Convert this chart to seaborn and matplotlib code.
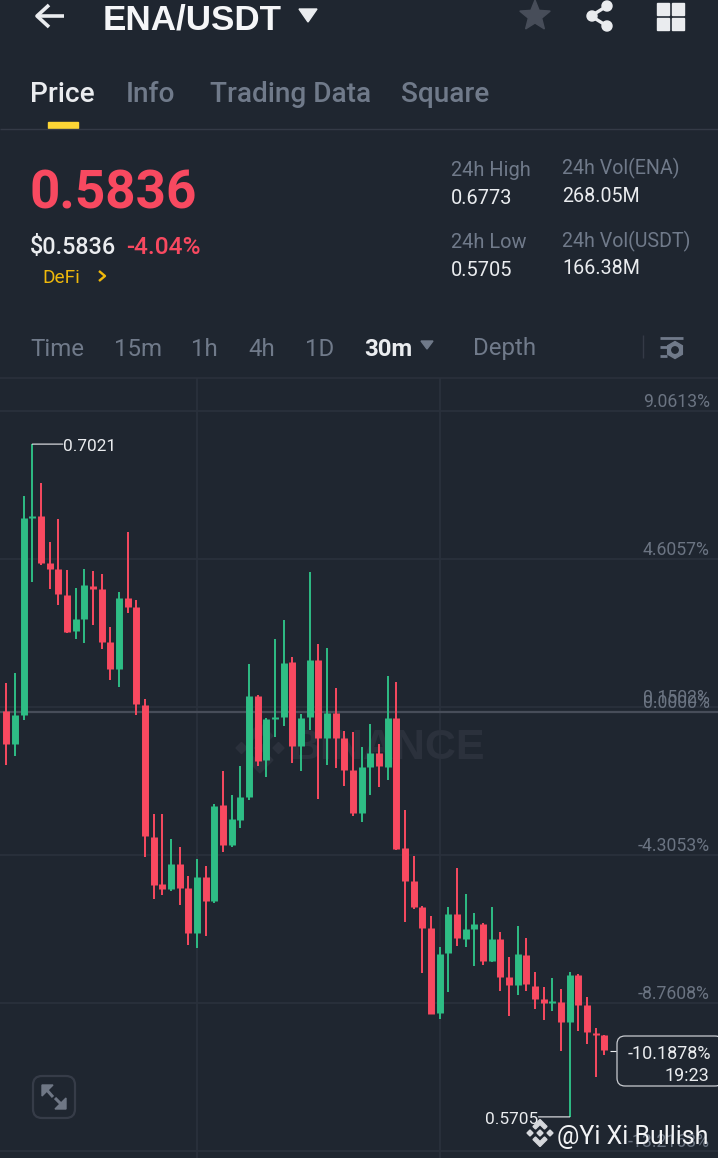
import numpy as np
import pandas as pd
import matplotlib
matplotlib.use("Agg")
import matplotlib.pyplot as plt
from matplotlib.patches import FancyBboxPatch, Polygon, Circle, Rectangle
import seaborn as sns

# candles, oldest first
opens = [.6502, .6498, .6434, .6491, .6877, .6880, .6788, .6777, .6726, .6655,
         .6679, .6744, .6738, .6633, .6581, .6719, .6703, .6511, .6253, .6160,
         .6151, .6199, .6153, .6065, .6174, .6127, .6315, .6236, .6286, .6331,
         .6528, .6403, .6484, .6487, .6594, .6431, .6487, .6598, .6446, .6495,
         .6447, .6383, .6300, .6389, .6417, .6390, .6485, .6230, .6166, .6116,
         .6074, .5908, .6026, .6101, .6053, .6073, .6082, .6010, .6052, .5979,
         .5963, .6022, .5961, .5935, .5928, .5929, .5891, .5983, .5924, .5870,
         .5865]
closes = [.6497, .6434, .6491, .6876, .6880, .6788, .6777, .6727, .6654, .6678,
          .6745, .6738, .6633, .6581, .6719, .6702, .6513, .6254, .6159, .6150,
          .6200, .6153, .6065, .6174, .6127, .6314, .6237, .6287, .6331, .6528,
          .6401, .6483, .6488, .6593, .6431, .6485, .6599, .6446, .6495, .6447,
          .6384, .6300, .6389, .6417, .6391, .6485, .6229, .6166, .6115, .6075,
          .5907, .6024, .6101, .6054, .6072, .6082, .6010, .6052, .5979, .5963,
          .6023, .5964, .5936, .5928, .5932, .5891, .5983, .5924, .5871, .5865,
          .5836]
highs = [.6502, .6554, .6573, .6920, .7021, .6945, .6830, .6875, .6775, .6740,
         .6776, .6772, .6767, .6663, .6731, .6849, .6716, .6523, .6298, .6297,
         .6248, .6232, .6177, .6209, .6196, .6318, .6381, .6335, .6391, .6590,
         .6530, .6485, .6640, .6676, .6604, .6494, .6771, .6630, .6623, .6543,
         .6460, .6457, .6429, .6473, .6434, .6567, .6555, .6305, .6215, .6117,
         .6097, .6037, .6115, .6192, .6141, .6104, .6084, .6116, .6067, .6018,
         .6079, .6055, .5988, .5960, .5976, .5955, .5989, .5985, .5940, .5879,
         .5865]
lows = [.6497, .6393, .6410, .6481, .6752, .6785, .6738, .6707, .6652, .6640,
        .6631, .6667, .6620, .6560, .6545, .6690, .6492, .6214, .6132, .6139,
        .6146, .6119, .6041, .6035, .6059, .6124, .6223, .6232, .6270, .6324,
        .6391, .6370, .6449, .6469, .6397, .6381, .6462, .6326, .6394, .6388,
        .6352, .6294, .6282, .6335, .6350, .6364, .6228, .6087, .6111, .5987,
        .5907, .5897, .5949, .6040, .6037, .6000, .6003, .6008, .5952, .5902,
        .5943, .5952, .5916, .5895, .5913, .5833, .5705, .5873, .5847, .5784,
        .5826]

base_price = 0.6497
grid_pct = [9.0613, 4.6057, 0.1502, -4.3053, -8.7608, -13.2163]
grid_labels = ["9.0613%", "4.6057%", "0.1502%", "-4.3053%", "-8.7608%", "-13.2163%"]
time_ticks = [23, 51]

BG = "#1f2630"
GRID = "#2a313c"
GREEN = "#2ebd85"
RED = "#f84960"
WHITE = "#eaecef"
GREY = "#707a8a"
FAINT = "#6b7482"

sns.set_theme(style="dark", rc={"figure.facecolor": BG, "axes.facecolor": BG})
plt.rcParams["font.family"] = ["Roboto", "DejaVu Sans"]

df = pd.DataFrame({"candle": range(len(opens)), "open": opens, "close": closes,
                   "high": highs, "low": lows})
df["dir"] = np.where(df["close"] >= df["open"], "up", "down")
wicks = df.melt(id_vars=["candle", "dir"], value_vars=["high", "low"], value_name="price")
bodies = df.melt(id_vars=["candle", "dir"], value_vars=["open", "close"], value_name="price")
pal = {"up": GREEN, "down": RED}

fig = plt.figure(figsize=(7.18, 11.58), dpi=100)
ax = fig.add_axes([0, 0, 1, 780 / 1158])
ui = fig.add_axes([0, 0, 1, 1], facecolor="none")
ui.set_xlim(0, 718)
ui.set_ylim(1158, 0)
ui.axis("off")

ax.set_xlim(0.269, 83.11)
ax.set_ylim(0.56246, 0.71503)

# grid first, candles on top of it
ax.set_xticks(time_ticks)
ax.set_yticks([base_price * (1 + p / 100) for p in grid_pct])
ax.tick_params(labelbottom=False, labelleft=False, length=0)
ax.grid(True, color=GRID, lw=1.3)
ax.set_axisbelow(True)
ax.axhline(base_price, color="#474d59", lw=1.6, zorder=1)
sns.despine(ax=ax, left=True, bottom=True)


def logo(target, cx, cy, scale, color, z):
    shapes = [
        [(0, -13.5), (7, -6.5), (4.5, -4), (0, -8.5), (-4.5, -4), (-7, -6.5)],
        [(0, 13.5), (7, 6.5), (4.5, 4), (0, 8.5), (-4.5, 4), (-7, 6.5)],
        [(0, -3), (3, 0), (0, 3), (-3, 0)],
        [(-10, -3), (-7, 0), (-10, 3), (-13, 0)],
        [(10, -3), (13, 0), (10, 3), (7, 0)],
    ]
    for s in shapes:
        pts = [[cx + px * scale, cy + py * scale] for px, py in s]
        target.add_patch(Polygon(pts, color=color, zorder=z, transform=ui.transData))


# faint exchange mark behind the candles
ax.text(0.5395, 0.5256, "BINANCE", transform=ax.transAxes, ha="center", va="center",
        fontsize=31, fontweight="bold", family="Liberation Sans", color="#2b313c", zorder=1.5)
logo(ax, 260, 748, 1.85, "#2b313c", 1.5)

sns.lineplot(data=wicks, x="candle", y="price", hue="dir", units="candle", estimator=None,
             palette=pal, linewidth=1.4, legend=False, ax=ax, solid_capstyle="butt", zorder=3)
sns.lineplot(data=bodies, x="candle", y="price", hue="dir", units="candle", estimator=None,
             palette=pal, linewidth=5.0, legend=False, ax=ax, solid_capstyle="butt", zorder=4)
ax.set_xlabel("")
ax.set_ylabel("")

# percent labels sit just above their grid lines
trans = ax.get_yaxis_transform()
for p, lab in zip(grid_pct, grid_labels):
    ax.annotate(lab, xy=(1, base_price * (1 + p / 100)), xycoords=trans, xytext=(-6, 6.3),
                textcoords="offset points", ha="right", va="center", fontsize=12.7,
                color=FAINT, zorder=5)
ax.annotate("0.0000%", xy=(1, base_price), xycoords=trans, xytext=(-6, 6.3),
            textcoords="offset points", ha="right", va="center", fontsize=12.7,
            color=FAINT, zorder=5)

# high / low callouts
imax = int(np.argmax(highs))
imin = int(np.argmin(lows))
for i, val, off, align in [(imax, highs[imax], 22, "left"), (imin, lows[imin], -22.5, "right")]:
    ax.annotate("", xy=(i, val), xytext=(off, 0), textcoords="offset points",
                arrowprops=dict(arrowstyle="-", color=WHITE, lw=0.8, shrinkA=0, shrinkB=0), zorder=6)
    ax.annotate(f"{val:.4f}", xy=(i, val), xytext=(off, -1.8), textcoords="offset points",
                va="center", ha=align, fontsize=12.4, color=WHITE, zorder=6)


# everything around the chart, drawn in screen pixels
def txt(x, y, s, px, color=WHITE, weight="normal", ha="left", family=None):
    if ha == "left":
        x = x - 1
    ui.text(x, y + 2, s, fontsize=px * 0.72, color=color, fontweight=weight, ha=ha, va="center",
            family=family)


def seg(xs, ys, color, lw):
    ui.plot(xs, ys, color=color, lw=lw, solid_capstyle="butt")


# header
seg([37, 64], [16, 16], WHITE, 2.6)
seg([49, 37, 49], [5, 16, 27], WHITE, 2.6)
txt(104, 18, "ENA/USDT", 35, "#f5f6f8", "bold", family="Liberation Sans")
ui.add_patch(Polygon([[299, 9], [317, 9], [308, 22]], color=WHITE))
star_a = np.linspace(-np.pi / 2, 1.5 * np.pi, 11)[:-1]
star_r = np.where(np.arange(10) % 2 == 0, 16, 7)
ui.add_patch(Polygon(np.c_[535 + star_r * np.cos(star_a), 16 + star_r * np.sin(star_a)], color="#474d59"))
seg([591, 607], [16, 6], WHITE, 2.4)
seg([591, 607], [16, 26], WHITE, 2.4)
for cx, cy, r in [(592, 16, 5), (607, 6, 5), (607, 26, 5)]:
    ui.add_patch(Circle((cx, cy), r, color=WHITE))
for gx, gy in [(657, 3), (672, 3), (657, 18), (672, 18)]:
    ui.add_patch(Rectangle((gx, gy), 12, 12, color=WHITE))

# tabs
txt(31, 92, "Price", 28, WHITE, "medium")
txt(127, 92, "Info", 28, GREY, "medium")
txt(211, 92, "Trading Data", 28, GREY, "medium")
txt(402, 92, "Square", 28, GREY, "medium")
ui.add_patch(Rectangle((48, 122), 30, 6, color="#fcd535"))
seg([0, 718], [128.5, 128.5], "#343a46", 1.0)

# price block
txt(30, 192, "0.5836", 53, RED, "bold")
txt(31, 245, "$0.5836", 23.4, WHITE, "medium")
txt(127, 245, "-4.04%", 24.5, RED, "medium")
txt(43, 276, "DeFi", 19, "#f0b90b")
seg([99, 105, 99], [271, 276, 281], "#f0b90b", 1.7)
txt(452, 169, "24h High", 20, GREY)
txt(452, 197, "0.6773", 20, WHITE)
txt(452, 241, "24h Low", 20, GREY)
txt(452, 269, "0.5705", 20, WHITE)
txt(563, 166, "24h Vol(ENA)", 19.7, GREY)
txt(563, 195, "268.05M", 19.7, WHITE)
txt(563, 239, "24h Vol(USDT)", 19.7, GREY)
txt(563, 267, "166.38M", 19.7, WHITE)

# interval bar
for x, s in [(31, "Time"), (115, "15m"), (192, "1h"), (249, "4h"), (306, "1D"), (474, "Depth")]:
    txt(x, 347, s, 24, GREY)
txt(365, 347, "30m", 24, WHITE, "bold")
ui.add_patch(Polygon([[421, 341], [433, 341], [427, 349]], color=GREY))
seg([643, 643], [335, 358], "#343a46", 1.0)
seg([660, 683], [337.5, 337.5], GREY, 2.0)
seg([660, 667], [347, 347], GREY, 2.0)
seg([660, 667], [356, 356], GREY, 2.0)
hex_a = np.linspace(-np.pi / 2, 1.5 * np.pi, 7)[:-1]
ui.add_patch(Polygon(np.c_[675 + 8.5 * np.cos(hex_a), 350 + 8.5 * np.sin(hex_a)], color=GREY))
ui.add_patch(Circle((675, 350), 3.2, color=BG))
seg([0, 718], [378, 378], "#2b313c", 1.1)

# live price tag
seg([610, 616], [1050.5, 1050.5], WHITE, 0.8)
ui.add_patch(FancyBboxPatch((617, 1036), 106, 50, boxstyle="round,pad=0,rounding_size=8",
                            fc=BG, ec="#c9ccd1", lw=0.9))
txt(711, 1052, "-10.1878%", 18, WHITE, ha="right")
txt(709, 1074, "19:23", 18, WHITE, ha="right")

# expand button
ui.add_patch(FancyBboxPatch((33, 1076), 42, 42, boxstyle="round,pad=0,rounding_size=9",
                            fc="none", ec="#363c48", lw=1.6))
ui.add_patch(Polygon([(42, 1085), (53, 1085), (42, 1096)], color="#6f7785"))
ui.add_patch(Polygon([(66, 1109), (55, 1109), (66, 1098)], color="#6f7785"))
seg([46, 53], [1089, 1097], "#6f7785", 2.2)
seg([62, 55], [1105, 1098], "#6f7785", 2.2)

# watermark in the corner
logo(ui, 540, 1133, 1.0, "#d6d8dc", 8)
txt(558, 1135, "@Yi Xi Bullish", 25, "#f2f3f5")

fig.savefig("out.png", dpi=100, facecolor=BG)
